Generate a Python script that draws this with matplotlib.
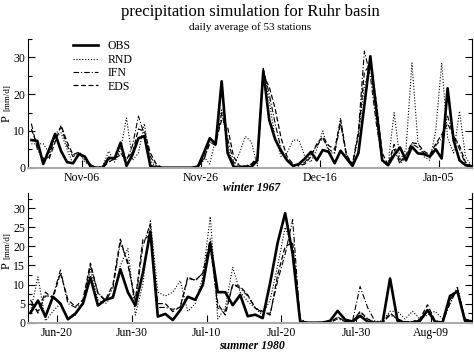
import numpy as np
import pandas as pd
import matplotlib
matplotlib.use('Agg')
import matplotlib.pyplot as plt
import matplotlib.dates as mdates
from matplotlib.ticker import MultipleLocator

plt.rcParams['font.family'] = ['Liberation Serif', 'DejaVu Serif']

# ---------------- data ----------------
winter_start = '1967-10-28 12:00'
summer_start = '1980-06-16 12:00'
series_names = ['OBS', 'RND', 'IFN', 'EDS']

obs_w = [7.5, 7.3, 1.0, 5.0, 9.2, 4.5, 1.5, 1.2, 3.7, 3.0,
         0.2, 0.0, 0.0, 2.7, 2.5, 6.8, 0.5, 3.5, 8.0, 8.6,
         0.5, 0.0, 0.0, 0.0, 0.0, 0.0, 0.0, 0.0, 0.3, 4.0,
         8.0, 6.5, 23.5, 4.0, 0.3, 0.0, 0.3, 0.2, 2.0, 26.3,
         13.0, 7.7, 4.5, 2.0, 0.5, 1.0, 2.5, 4.3, 2.0, 4.8,
         4.3, 1.2, 4.6, 2.5, 0.5, 4.0, 17.0, 30.3, 16.0, 2.0,
         0.7, 3.4, 5.5, 2.0, 5.7, 3.9, 3.7, 3.0, 5.0, 2.5,
         21.6, 7.5, 2.0, 0.7, 0.3]
rnd_w = [6.5, 6.5, 6.5, 4.0, 8.0, 9.5, 5.0, 1.0, 4.3, 1.5,
         0.5, 0.0, 0.5, 4.5, 1.5, 5.0, 13.5, 2.0, 4.0, 12.0,
         2.0, 0.0, 0.0, 0.0, 0.0, 0.0, 0.0, 0.0, 0.5, 3.0,
         1.0, 8.0, 16.0, 6.0, 0.5, 4.0, 8.5, 7.0, 0.5, 27.0,
         18.0, 8.0, 3.0, 4.0, 7.5, 7.5, 3.0, 1.5, 5.0, 10.0,
         4.0, 4.0, 13.5, 3.0, 0.5, 9.0, 22.0, 28.0, 14.0, 2.0,
         1.0, 15.0, 2.0, 5.0, 28.5, 7.0, 3.0, 2.0, 10.0, 28.5,
         8.0, 4.0, 15.4, 3.0, 0.5]
ifn_w = [12.0, 5.0, 2.0, 3.0, 9.0, 11.0, 6.0, 3.0, 4.0, 2.0,
         0.5, 0.0, 0.0, 2.0, 3.0, 4.0, 2.0, 6.0, 14.0, 9.0,
         3.0, 0.5, 0.0, 0.0, 0.0, 0.0, 0.0, 0.0, 0.2, 2.0,
         7.0, 6.0, 15.0, 8.0, 1.5, 0.3, 0.5, 1.0, 3.0, 27.0,
         20.0, 12.0, 5.0, 2.0, 0.8, 0.5, 1.5, 3.5, 6.0, 8.0,
         5.0, 4.0, 12.0, 3.0, 1.0, 10.0, 31.7, 25.0, 12.0, 2.0,
         0.5, 5.0, 1.0, 3.0, 6.5, 5.5, 4.0, 3.0, 6.0, 8.0,
         14.0, 8.6, 5.0, 1.0, 0.5]
eds_w = [10.5, 6.0, 2.5, 2.5, 7.0, 11.5, 7.0, 3.5, 4.3, 2.5,
         0.8, 0.0, 0.0, 1.5, 2.5, 3.5, 2.5, 4.0, 10.5, 10.0,
         4.0, 1.0, 0.0, 0.0, 0.0, 0.0, 0.0, 0.0, 0.3, 2.5,
         6.5, 7.0, 13.0, 11.0, 3.0, 0.5, 0.3, 0.8, 2.5, 25.0,
         22.0, 16.0, 8.0, 3.0, 1.0, 0.5, 1.0, 3.0, 6.5, 8.4,
         6.0, 5.0, 13.0, 3.5, 1.0, 9.0, 26.0, 28.0, 18.0, 4.0,
         0.8, 6.3, 1.5, 3.5, 6.8, 6.5, 4.5, 3.5, 6.5, 9.0,
         12.0, 8.6, 6.0, 1.5, 0.5]

obs_s = [2.6, 5.8, 1.6, 6.8, 5.0, 0.9, 2.4, 5.0, 11.9, 4.5,
         6.0, 6.6, 14.0, 8.0, 4.5, 13.0, 23.9, 1.6, 2.3, 0.7,
         3.3, 6.8, 6.0, 9.9, 20.8, 8.0, 8.0, 4.6, 7.3, 1.7,
         2.1, 1.2, 10.5, 21.0, 28.7, 18.0, 0.3, 0.0, 0.0, 0.0,
         0.5, 3.1, 0.8, 0.3, 1.8, 0.3, 0.0, 0.0, 11.6, 0.5,
         0.0, 0.0, 0.5, 3.3, 0.3, 0.0, 7.0, 8.2, 0.5, 0.3]
rnd_s = [3.0, 12.0, 0.5, 3.0, 5.0, 1.0, 2.0, 5.0, 14.0, 6.0,
         5.0, 7.0, 15.0, 19.5, 2.0, 10.0, 27.0, 8.0, 7.0, 8.0,
         11.0, 3.0, 5.0, 12.0, 27.8, 1.0, 4.0, 14.5, 8.0, 5.6,
         3.8, 2.0, 6.0, 15.0, 25.0, 20.0, 1.0, 0.0, 0.0, 0.3,
         0.0, 1.5, 0.3, 0.5, 2.5, 1.0, 0.3, 0.5, 3.0, 2.9,
         1.0, 3.0, 1.0, 2.0, 3.0, 1.0, 5.0, 9.5, 1.0, 0.5]
ifn_s = [6.0, 2.5, 7.0, 7.0, 13.8, 5.0, 4.0, 5.0, 15.0, 8.0,
         5.5, 9.0, 21.0, 16.0, 5.0, 20.0, 26.0, 4.0, 4.0, 3.5,
         4.0, 11.6, 11.2, 12.9, 22.0, 3.8, 3.0, 10.0, 9.0, 7.0,
         4.0, 2.5, 2.5, 11.0, 18.0, 27.0, 0.5, 0.0, 0.0, 0.0,
         0.0, 1.0, 0.3, 0.5, 9.5, 4.0, 0.3, 0.0, 2.0, 1.0,
         0.2, 0.3, 0.5, 3.0, 0.5, 0.0, 5.0, 9.0, 1.0, 0.3]
eds_s = [5.0, 3.0, 8.0, 6.4, 13.0, 6.0, 4.2, 6.0, 15.6, 7.7,
         6.0, 9.9, 21.9, 15.2, 6.0, 21.7, 23.0, 5.0, 5.0, 2.9,
         4.2, 12.0, 11.0, 13.0, 20.0, 5.0, 2.0, 10.0, 9.5, 7.3,
         3.8, 3.0, 2.0, 12.6, 20.0, 21.0, 0.3, 0.0, 0.0, 0.0,
         0.0, 1.5, 0.3, 0.2, 3.0, 1.0, 0.0, 0.0, 2.5, 1.0,
         0.2, 0.3, 1.0, 4.7, 0.5, 0.0, 6.0, 8.5, 1.0, 0.3]

winter_ticks = ['1967-11-06', '1967-11-26', '1967-12-16', '1968-01-05']
summer_ticks = ['1980-06-20', '1980-06-30', '1980-07-10', '1980-07-20',
                '1980-07-30', '1980-08-09']
tick_fmt = '%b-%d'

# ---------------- styles ----------------
styles = {
    'OBS': dict(color='black', lw=1.9, ls='-'),
    'RND': dict(color='black', lw=0.8, ls=(0, (1, 1.6))),
    'IFN': dict(color='black', lw=0.8, ls=(0, (5, 1.8, 1, 1.8))),
    'EDS': dict(color='black', lw=0.9, ls=(0, (4, 2))),
}

W, H = 474, 352
fig = plt.figure(figsize=(W / 100, H / 100), dpi=100)
ax1 = fig.add_axes([28 / W, 1 - 167.7 / H, 444 / W, 128.7 / H])
ax2 = fig.add_axes([28 / W, 1 - 322.7 / H, 444 / W, 129.7 / H])


def draw(ax, start, data, ticks, ylim, major, minor, xl, xr):
    dates = pd.date_range(start, periods=len(data['OBS']), freq='D')
    lines = {}
    for name in ['RND', 'IFN', 'EDS', 'OBS']:
        lines[name], = ax.plot(dates, data[name], label=name, **styles[name])
    t0 = pd.Timestamp(start)
    ax.set_xlim(t0 + pd.Timedelta(days=xl), t0 + pd.Timedelta(days=xr))
    ax.set_ylim(*ylim)
    ax.set_xticks(pd.to_datetime(ticks))
    ax.xaxis.set_major_formatter(mdates.DateFormatter(tick_fmt))
    ax.yaxis.set_major_locator(MultipleLocator(major))
    ax.yaxis.set_minor_locator(MultipleLocator(minor))
    ax.spines['top'].set_visible(False)
    ax.spines['bottom'].set_color('#a8a8a8')
    ax.spines['bottom'].set_linewidth(1.4)
    for s in ['left', 'right']:
        ax.spines[s].set_linewidth(0.8)
    ax.tick_params(axis='y', which='major', direction='in', length=5,
                   width=0.8, left=True, right=True, labelsize=8.5, pad=2)
    ax.tick_params(axis='y', which='minor', direction='in', length=3,
                   width=0.8, left=True, right=True)
    ax.tick_params(axis='x', which='major', direction='in', length=6,
                   width=0.8, labelsize=8.5, pad=3)
    return lines


lines = draw(ax1, winter_start,
             {'OBS': obs_w, 'RND': rnd_w, 'IFN': ifn_w, 'EDS': eds_w},
             winter_ticks, (0, 35), 10, 5, -0.57, 74.1)
draw(ax2, summer_start,
     {'OBS': obs_s, 'RND': rnd_s, 'IFN': ifn_s, 'EDS': eds_s},
     summer_ticks, (0, 34), 5, 2.5, -0.33, 58.94)

ax1.legend([lines[n] for n in series_names], series_names,
           loc='upper left', bbox_to_anchor=((73 - 28) / 444, 0.99),
           frameon=False, fontsize=8.5, handlelength=2.1, handletextpad=0.8,
           labelspacing=0.12, borderpad=0, borderaxespad=0)

cx = 250 / W
fig.text(cx, 1 - 12.5 / H, 'precipitation simulation for Ruhr basin',
         ha='center', va='center', fontsize=12)
fig.text(cx, 1 - 27.5 / H, 'daily average of 53 stations',
         ha='center', va='center', fontsize=8)
fig.text(252 / W, 1 - 188 / H, 'winter 1967', ha='center', va='center',
         fontsize=8.5, fontweight='bold', style='italic')
fig.text(252 / W, 1 - 346 / H, 'summer 1980', ha='center', va='center',
         fontsize=8.5, fontweight='bold', style='italic')

for yP, yU in [(119, 98), (266, 246)]:
    fig.text(7 / W, 1 - yP / H, 'P', rotation=90, ha='center', va='center',
             fontsize=9)
    fig.text(7.5 / W, 1 - yU / H, '[mm/d]', rotation=90, ha='center',
             va='center', fontsize=6.5)

fig.savefig('out.png', dpi=100)
